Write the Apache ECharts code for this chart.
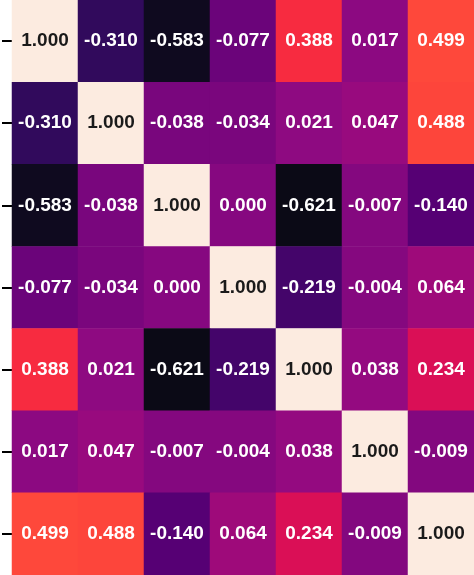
<!DOCTYPE html><html><head><meta charset="utf-8"><script src="https://cdn.jsdelivr.net/npm/echarts@6/dist/echarts.min.js"></script>
<style>html,body{margin:0;padding:0;background:#fff}#c{width:474px;height:575px}</style></head><body><div id="c"></div><script>
const labels=['A','B','C','D','E','F','G'];
const matrix=[
[1.000,-0.310,-0.583,-0.077,0.388,0.017,0.499],
[-0.310,1.000,-0.038,-0.034,0.021,0.047,0.488],
[-0.583,-0.038,1.000,0.000,-0.621,-0.007,-0.140],
[-0.077,-0.034,0.000,1.000,-0.219,-0.004,0.064],
[0.388,0.021,-0.621,-0.219,1.000,0.038,0.234],
[0.017,0.047,-0.007,-0.004,0.038,1.000,-0.009],
[0.499,0.488,-0.140,0.064,0.234,-0.009,1.000]];
const data=[];
matrix.forEach((r,i)=>r.forEach((v,j)=>data.push([j,i,v])));
const ch=echarts.init(document.getElementById('c'));
ch.setOption({animation:false,
grid:{left:12,top:0,right:0,bottom:0},
xAxis:{type:'category',data:labels,show:false},
yAxis:{type:'category',data:labels,inverse:true,axisLine:{show:false},axisLabel:{show:false},
 axisTick:{show:true,alignWithLabel:true,length:10,lineStyle:{color:'#000',width:2}},splitLine:{show:false}},
visualMap:{show:false,min:-0.621,max:1,dimension:2,inRange:{color:['#0b0a16','#1e0b3c','#330a5f','#570075','#900a82','#d0085e','#f52242','#ff4c3a','#fd8a6a','#fbbca0','#fcebe0']}},
series:[{type:'heatmap',data:data,label:{show:true,fontFamily:'Liberation Sans',fontWeight:'bold',fontSize:19,
 formatter:p=>p.value[2].toFixed(3),
 rich:{}},
 itemStyle:{borderWidth:0}}]
});
const opt=ch.getOption();
ch.setOption({series:[{data:data.map(d=>({value:d,label:{color:d[2]>0.7?'#1a1a1a':'#ffffff'}}))}]});
</script></body></html>
